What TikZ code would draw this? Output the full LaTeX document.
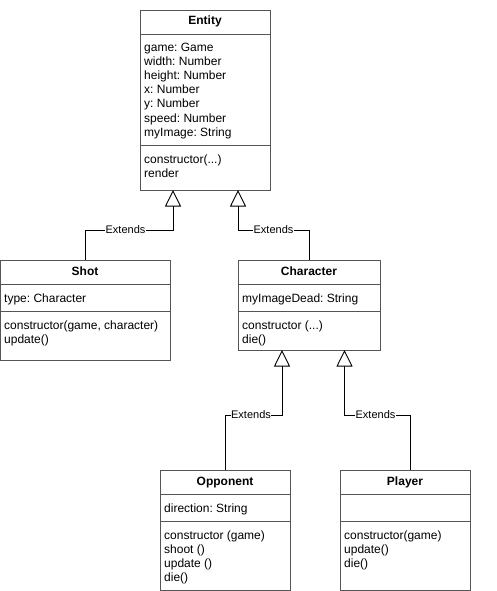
\documentclass[tikz,border=0pt]{standalone}
\usepackage{fontspec}
\setmainfont{Liberation Sans}
\usetikzlibrary{arrows.meta,calc}
\frenchspacing
\definecolor{boxc}{HTML}{555555}
\tikzset{
  cls/.style={draw=boxc, line width=0.9pt, rectangle, inner sep=0pt, outer sep=0pt, anchor=north west, fill=white},
  sepline/.style={draw=boxc, line width=0.9pt},
  ttl/.style={anchor=base, inner sep=0pt, font=\fontsize{12pt}{14pt}\selectfont\bfseries},
  txt/.style={anchor=base west, inner sep=0pt, font=\fontsize{12pt}{14pt}\selectfont\frenchspacing},
  lbl/.style={fill=white, inner sep=0.5pt, font=\fontsize{11pt}{13pt}\selectfont},
  ext/.style={draw=black, line width=0.9pt, -{Triangle[open, length=16.5pt, width=16pt, fill=white]}},
}
\begin{document}
\begin{tikzpicture}[x=1pt, y=-1pt]
\useasboundingbox (0,0) rectangle (496,591);
% Entity
\node[cls, minimum width=130pt, minimum height=180pt] (entity) at (140,10) {};
\draw[sepline] (140,34) -- (270,34);
\draw[sepline] (140,145) -- (270,145);
\node[ttl] (entityT) at (205,25) {Entity};
\node[txt] (e1) at (144,52) {game: Game};
\node[txt] (e2) at (144,66) {width: Number};
\node[txt] (e3) at (144,80) {height: Number};
\node[txt] (e4) at (144,94) {x: Number};
\node[txt] (e5) at (144,108) {y: Number};
\node[txt] (e6) at (144,122) {speed: Number};
\node[txt] (e7) at (144,136) {myImage: String};
\node[txt] (e8) at (144,163) {constructor(...)};
\node[txt] (e9) at (144,177) {render};
% Shot
\node[cls, minimum width=170pt, minimum height=100pt] (shot) at (0,260) {};
\draw[sepline] (0,284) -- (170,284);
\draw[sepline] (0,311) -- (170,311);
\node[ttl] (shotT) at (85,275) {Shot};
\node[txt] (s1) at (4,302) {type: Character};
\node[txt] (s2) at (4,329) {constructor(game, character)};
\node[txt] (s3) at (4,343) {update()};
% Character
\node[cls, minimum width=142pt, minimum height=90pt] (character) at (238,260) {};
\draw[sepline] (238,284) -- (380,284);
\draw[sepline] (238,311) -- (380,311);
\node[ttl] (charT) at (309,275) {Character};
\node[txt] (c1) at (242,302) {myImageDead: String};
\node[txt] (c2) at (242,329) {constructor (...)};
\node[txt] (c3) at (242,343) {die()};
% Opponent
\node[cls, minimum width=130pt, minimum height=120pt] (opponent) at (160,470) {};
\draw[sepline] (160,494) -- (290,494);
\draw[sepline] (160,521) -- (290,521);
\node[ttl] (oppT) at (225,485) {Opponent};
\node[txt] (o1) at (164,512) {direction: String};
\node[txt] (o2) at (164,539) {constructor (game)};
\node[txt] (o3) at (164,553) {shoot ()};
\node[txt] (o4) at (164,567) {update ()};
\node[txt] (o5) at (164,581) {die()};
% Player
\node[cls, minimum width=130pt, minimum height=120pt] (player) at (340,470) {};
\draw[sepline] (340,494) -- (470,494);
\draw[sepline] (340,521) -- (470,521);
\node[ttl] (plT) at (405,485) {Player};
\node[txt] (p1) at (344,539) {constructor(game)};
\node[txt] (p2) at (344,553) {update()};
\node[txt] (p3) at (344,567) {die()};
% connectors
\draw[ext] (shot.north) -- ++(0,-30) -| ($(entity.south)+(-32,0)$);
\draw[ext] (character.north) -- ++(0,-30) -| ($(entity.south)+(33,0)$);
\draw[ext] ($(opponent.north)+(0.5,0)$) -- ++(0,-55) -| ($(character.south)+(-27,0)$);
\draw[ext] ($(player.north)+(5,0)$) -- ++(0,-55) -| ($(character.south)+(35.5,0)$);
\node[lbl] (l1) at (125.5,230) {Extends};
\node[lbl] (l2) at (273.5,230) {Extends};
\node[lbl] (l3) at (251,415) {Extends};
\node[lbl] (l4) at (375.5,415) {Extends};
\end{tikzpicture}
\end{document}
